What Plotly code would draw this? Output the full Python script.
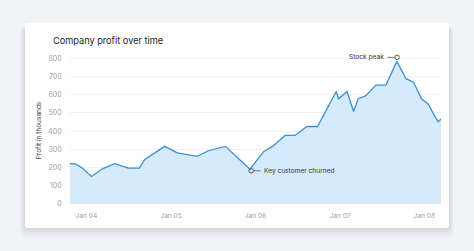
import plotly.graph_objects as go

# ---- data ----
dates = ["2003-10-22", "2003-11-15", "2003-12-14", "2004-01-23", "2004-03-10", "2004-05-02",
         "2004-06-30", "2004-08-17", "2004-09-08", "2004-12-04", "2005-01-28", "2005-04-23",
         "2005-06-12", "2005-08-24", "2005-12-08", "2006-02-06", "2006-03-16", "2006-05-09",
         "2006-06-21", "2006-08-11", "2006-09-26", "2006-12-16", "2006-12-26", "2007-02-01",
         "2007-03-01", "2007-03-21", "2007-04-22", "2007-06-06", "2007-07-19", "2007-09-04",
         "2007-10-14", "2007-11-15", "2007-12-20", "2008-01-19", "2008-02-10", "2008-03-01",
         "2008-03-13"]
profit = [221, 220, 197, 151, 193, 221, 197, 197, 243, 316, 280, 261, 292, 316, 191, 288,
          316, 376, 376, 425, 425, 617, 577, 617, 507, 577, 593, 652, 652, 782, 687, 668,
          577, 546, 493, 451, 466]

event_dates = ["2005-12-13", "2007-09-05"]
event_values = [182, 804]
event_labels = ["Key customer churned", "Stock peak"]
event_side = [1, -1]

y_ticks = [0, 100, 200, 300, 400, 500, 600, 700, 800]
y_max = 806

FONT = "Inter"
W, H = 474, 251
L, R, T, B = 70, 33, 57, 47
PW, PH = W - L - R, H - T - B


def px(x):
    return (x - L) / PW


def py(y):
    return (H - B - y) / PH


def rrect(x0, y0, x1, y1, r):
    rx, ry = r / PW, r / PH
    X0, X1 = px(x0), px(x1)
    Y0, Y1 = py(y0), py(y1)  # Y0 top (larger), Y1 bottom
    return (f"M {X0+rx},{Y0} L {X1-rx},{Y0} Q {X1},{Y0} {X1},{Y0-ry} "
            f"L {X1},{Y1+ry} Q {X1},{Y1} {X1-rx},{Y1} L {X0+rx},{Y1} "
            f"Q {X0},{Y1} {X0},{Y1+ry} L {X0},{Y0-ry} Q {X0},{Y0} {X0+rx},{Y0} Z")


fig = go.Figure()
fig.add_trace(go.Scatter(
    x=dates, y=profit, mode="lines",
    line=dict(color="#3b90d6", width=1.3),
    fill="tozeroy", fillcolor="#d5ebfc",
    hoverinfo="skip", showlegend=False,
))
fig.add_trace(go.Scatter(
    x=event_dates, y=event_values, mode="markers",
    marker=dict(symbol="circle-open", size=4.5, color="#555", line=dict(width=1)),
    cliponaxis=False, showlegend=False, hoverinfo="skip",
))

shapes = []
# card shadow
for i, a in enumerate([0.02, 0.025, 0.03, 0.035, 0.045]):
    g = 10 - i * 2
    shapes.append(dict(type="path", xref="paper", yref="paper", layer="below",
                       path=rrect(25 - g * 0.5, 23 + 3, 449 + g * 0.5, 228 + g, 6),
                       line=dict(width=0), fillcolor=f"rgba(60,70,100,{a})"))
shapes.append(dict(type="path", xref="paper", yref="paper", layer="below",
                   path=rrect(25, 23, 449, 228, 3),
                   line=dict(width=0), fillcolor="#ffffff"))

annotations = []
annotations.append(dict(
    text="Company profit over time", xref="paper", yref="paper",
    x=px(50.5), y=py(40), xanchor="left", yanchor="middle", showarrow=False,
    font=dict(family=FONT, size=9.2, color="#222222")))
for d, v, lab, s in zip(event_dates, event_values, event_labels, event_side):
    annotations.append(dict(
        x=d, y=v, xref="x", yref="y", text=lab, showarrow=True,
        ax=11 * s, ay=0, arrowhead=0, arrowwidth=0.8, arrowcolor="#555555",
        standoff=2.5, startstandoff=1.5,
        xanchor="left" if s > 0 else "right", yanchor="middle",
        font=dict(family=FONT, size=6.6, color="#333333")))

fig.update_layout(
    width=W, height=H,
    margin=dict(l=L, r=R, t=T, b=B, pad=0),
    paper_bgcolor="#f2f3f7", plot_bgcolor="rgba(0,0,0,0)",
    shapes=shapes, annotations=annotations,
    font=dict(family=FONT),
    xaxis=dict(
        range=[dates[0], dates[-1]], type="date",
        tick0="2004-01-01", dtick="M12", tickformat="%b %y",
        showgrid=False, zeroline=False, showline=False,
        ticks="outside", ticklen=5, tickcolor="rgba(0,0,0,0)",
        tickfont=dict(family=FONT, size=6.6, color="#a0a0a0"),
    ),
    yaxis=dict(
        range=[0, y_max], tickvals=y_ticks,
        showgrid=True, gridcolor="#f0f0f2", gridwidth=1,
        zeroline=False, showline=False,
        ticks="outside", ticklen=6, tickcolor="rgba(0,0,0,0)",
        tickfont=dict(family=FONT, size=7, color="#a0a0a0"),
        title=dict(text="Profit in thousands", standoff=5,
                   font=dict(family=FONT, size=6.5, color="#444444")),
    ),
)

fig.write_html("out.html")
